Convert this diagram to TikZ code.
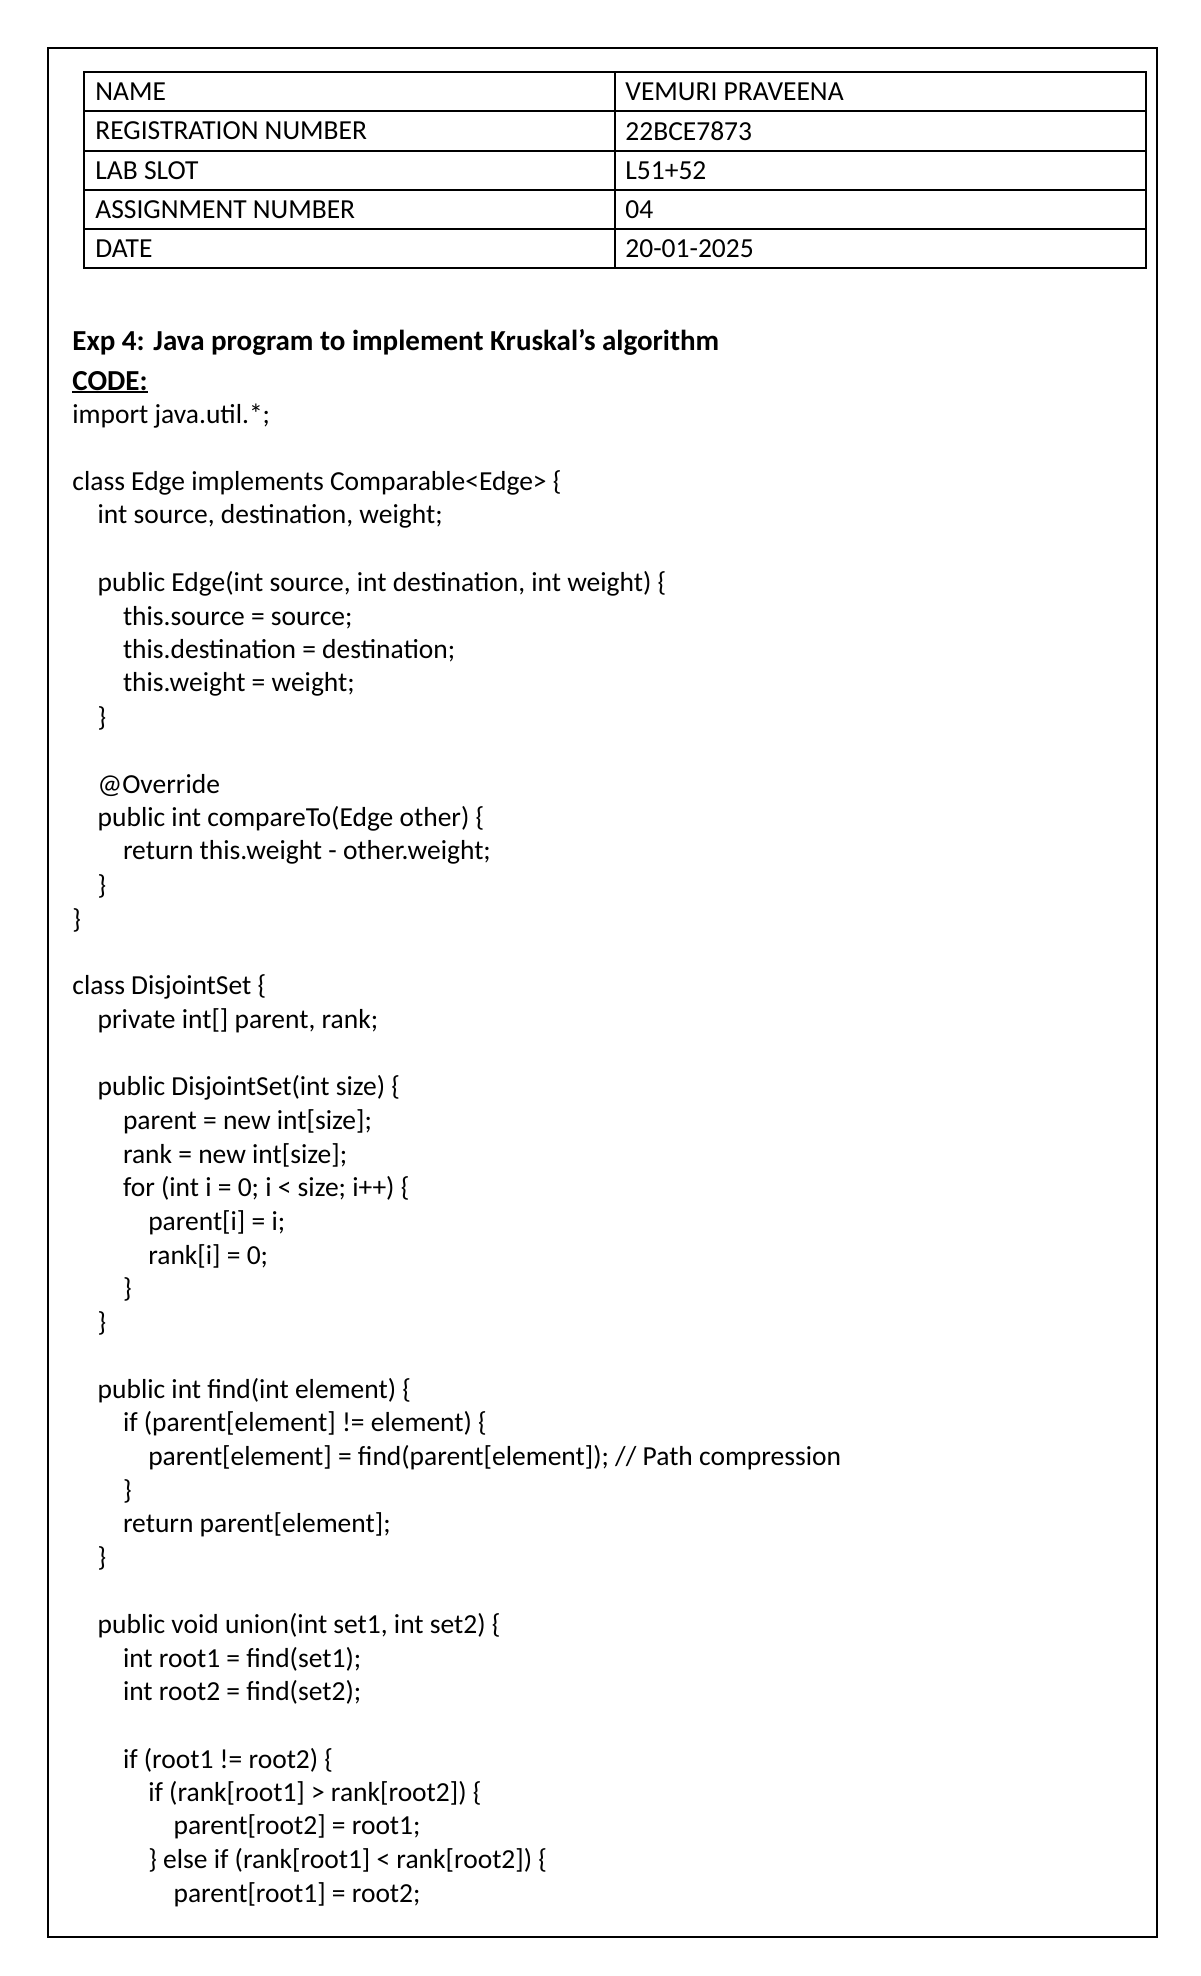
\documentclass[tikz,border=0pt]{standalone}
\usepackage{fontspec}
\setmainfont{Carlito}
\begin{document}
\begin{tikzpicture}[x=0.5pt,y=-0.5pt,
  code/.style={anchor=west,inner sep=0pt,font=\fontsize{13.75pt}{16pt}\selectfont},
  cell/.style={anchor=west,inner sep=0pt,font=\fontsize{13.75pt}{16pt}\selectfont},
  tline/.style={line width=0.8pt}]
\useasboundingbox (0,0) rectangle (1200,1976);
\fill[white] (0,0) rectangle (1200,1976);
\draw[line width=0.7pt] (48,48) rectangle (1157,1937);
% table
\draw[tline] (84,72) rectangle (1146,268);
\foreach \y in {111,151,190,229} \draw[tline] (84,\y) -- (1146,\y);
\draw[tline] (615,72) -- (615,268);
\newcommand\trow[3]{\node[cell] (a#1) at (95,#2) {#3};}
\newcommand\trowb[3]{\node[cell] (b#1) at (625,#2) {#3};}
\trow{1}{92}{NAME}\trowb{1}{92}{VEMURI PRAVEENA}
\trow{2}{131}{REGISTRATION NUMBER}\trowb{2}{131}{22BCE7873}
\trow{3}{171}{LAB SLOT}\trowb{3}{171}{L51+52}
\trow{4}{210}{ASSIGNMENT NUMBER}\trowb{4}{210}{04}
\trow{5}{249}{DATE}\trowb{5}{249}{20-01-2025}
\node[code,font=\fontsize{14.5pt}{16pt}\selectfont\bfseries] (title) at (72,342) {Exp 4: Java program to implement Kruskal's algorithm};
\node[code,font=\fontsize{14.5pt}{16pt}\selectfont\bfseries] (codeh) at (72,381) {CODE:};
\draw[line width=0.8pt] (72,392) -- (codeh.east |- 0,392);
\newcommand\cl[3]{\node[code] (c#2) at ({72+25.3*#1},{416+33.6*#2}) {#3};}
\cl{0}{0}{import java.util.*;}
\cl{0}{2}{class Edge implements Comparable<Edge> \{}
\cl{1}{3}{int source, destination, weight;}
\cl{1}{5}{public Edge(int source, int destination, int weight) \{}
\cl{2}{6}{this.source = source;}
\cl{2}{7}{this.destination = destination;}
\cl{2}{8}{this.weight = weight;}
\cl{1}{9}{\}}
\cl{1}{11}{@Override}
\cl{1}{12}{public int compareTo(Edge other) \{}
\cl{2}{13}{return this.weight - other.weight;}
\cl{1}{14}{\}}
\cl{0}{15}{\}}
\cl{0}{17}{class DisjointSet \{}
\cl{1}{18}{private int[] parent, rank;}
\cl{1}{20}{public DisjointSet(int size) \{}
\cl{2}{21}{parent = new int[size];}
\cl{2}{22}{rank = new int[size];}
\cl{2}{23}{for (int i = 0; i < size; i++) \{}
\cl{3}{24}{parent[i] = i;}
\cl{3}{25}{rank[i] = 0;}
\cl{2}{26}{\}}
\cl{1}{27}{\}}
\cl{1}{29}{public int find(int element) \{}
\cl{2}{30}{if (parent[element] != element) \{}
\cl{3}{31}{parent[element] = find(parent[element]); // Path compression}
\cl{2}{32}{\}}
\cl{2}{33}{return parent[element];}
\cl{1}{34}{\}}
\cl{1}{36}{public void union(int set1, int set2) \{}
\cl{2}{37}{int root1 = find(set1);}
\cl{2}{38}{int root2 = find(set2);}
\cl{2}{40}{if (root1 != root2) \{}
\cl{3}{41}{if (rank[root1] > rank[root2]) \{}
\cl{4}{42}{parent[root2] = root1;}
\cl{3}{43}{\} else if (rank[root1] < rank[root2]) \{}
\cl{4}{44}{parent[root1] = root2;}
\end{tikzpicture}
\end{document}
